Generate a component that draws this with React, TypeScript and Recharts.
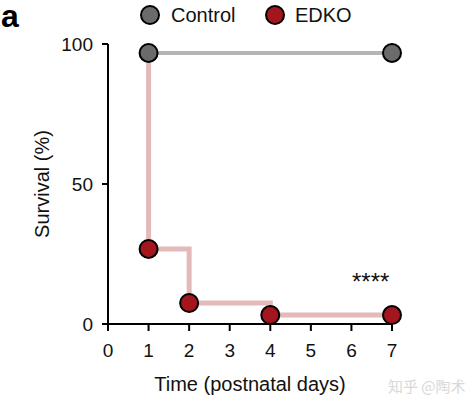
import { ComposedChart, Line, Scatter, XAxis, YAxis, Legend } from 'recharts'

const days = [0, 1, 2, 3, 4, 5, 6, 7]
const survivalTicks = [0, 50, 100]

const controlDays = [1, 7]
const controlSurvival = [96.8, 96.8]

// EDKO steps down from the starting (shared) survival level
const edkoDays = [1, 2, 4, 7]
const edkoSurvival = [26.8, 7.5, 3.2, 3.2]
const edkoStart = 96.8

const seriesNames = ['Control', 'EDKO']

const FONT = '"Liberation Sans", Arial, Helvetica, sans-serif'
const GRAY_DOT = '#6b6b6b'
const GRAY_LINE = '#b5b5b5'
const RED_DOT = '#a3161d'
const PINK_LINE = '#e3b9b9'

const controlData = controlDays.map((d, i) => ({ day: d, value: controlSurvival[i] }))
const edkoStepData = [{ day: edkoDays[0], value: edkoStart }].concat(
	edkoDays.map((d, i) => ({ day: d, value: edkoSurvival[i] }))
)
const edkoData = edkoDays.map((d, i) => ({ day: d, value: edkoSurvival[i] }))

const Dot = ({ cx, cy, fill }: any) => (
	<circle cx={cx} cy={cy} r={9} fill={fill} stroke="#000" strokeWidth={2} />
)

const LegendContent = () => (
	<svg width={475} height={30} style={{ display: 'block' }}>
		<circle cx={150} cy={15} r={9} fill={GRAY_DOT} stroke="#000" strokeWidth={2} />
		<text x={171} y={22} fontSize={20} fontFamily={FONT} fill="#111">{seriesNames[0]}</text>
		<circle cx={275} cy={15} r={9} fill={RED_DOT} stroke="#000" strokeWidth={2} />
		<text x={295} y={22} fontSize={20} fontFamily={FONT} fill="#111">{seriesNames[1]}</text>
	</svg>
)

export default function App() {
	return (
		<div style={{ position: 'absolute', left: 0, top: 0, width: 475, height: 409, background: '#fff' }}>
			<ComposedChart
				width={475}
				height={409}
				margin={{ top: 44, right: 83, bottom: 10, left: 0 }}
				style={{ fontFamily: FONT }}
			>
				<XAxis
					type="number"
					dataKey="day"
					domain={[0, 7]}
					ticks={days}
					interval={0}
					height={75}
					axisLine={{ stroke: '#000', strokeWidth: 2 }}
					tickLine={{ stroke: '#000', strokeWidth: 2 }}
					tickSize={7}
					tickMargin={13}
					tick={{ fill: '#111', fontSize: 19 }}
					label={{ value: 'Time (postnatal days)', position: 'insideBottom', offset: 8, fill: '#111', fontSize: 20 }}
				/>
				<YAxis
					type="number"
					domain={[0, 100]}
					ticks={survivalTicks}
					width={108}
					axisLine={{ stroke: '#000', strokeWidth: 2 }}
					tickLine={{ stroke: '#000', strokeWidth: 2 }}
					tickSize={6}
					tickMargin={9}
					tick={{ fill: '#111', fontSize: 19 }}
					label={{ value: 'Survival (%)', angle: -90, position: 'center', dx: -12, fill: '#111', fontSize: 20 }}
				/>
				<Legend
					verticalAlign="middle"
					layout="horizontal"
					content={<LegendContent />}
					wrapperStyle={{ position: 'absolute', top: 0, left: 0, width: 475, height: 30 }}
				/>
				<Line
					data={edkoStepData}
					dataKey="value"
					type="stepAfter"
					stroke={PINK_LINE}
					strokeWidth={5}
					dot={false}
					activeDot={false}
					legendType="none"
					isAnimationActive={false}
				/>
				<Line
					data={controlData}
					dataKey="value"
					name={seriesNames[0]}
					type="linear"
					stroke={GRAY_LINE}
					strokeWidth={4}
					dot={<Dot fill={GRAY_DOT} />}
					activeDot={false}
					isAnimationActive={false}
				/>
				<Scatter
					data={edkoData}
					dataKey="value"
					name={seriesNames[1]}
					shape={<Dot fill={RED_DOT} />}
					isAnimationActive={false}
				/>
			</ComposedChart>
			<div style={{ position: 'absolute', left: 1, top: 0, fontFamily: FONT, fontWeight: 'bold', fontSize: 32, lineHeight: '32px', color: '#000' }}>a</div>
			<div style={{ position: 'absolute', left: 352, top: 268, fontFamily: FONT, fontSize: 24, lineHeight: '28px', color: '#111' }}>****</div>
			<div style={{ position: 'absolute', left: 388, top: 375, fontFamily: '"Noto Sans CJK SC", sans-serif', fontSize: 15, color: '#d8d8d8' }}>知乎 @陶术</div>
		</div>
	)
}
